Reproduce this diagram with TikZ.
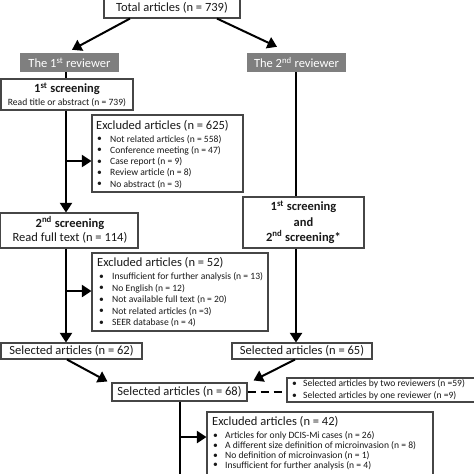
\documentclass[tikz,border=0pt]{standalone}
\usepackage{fontspec}
\setmainfont{Carlito}
\usetikzlibrary{arrows.meta}
\definecolor{grayc}{RGB}{127,127,127}
\definecolor{boxc}{RGB}{70,70,70}
\definecolor{txtc}{RGB}{25,25,25}
\begin{document}
\begin{tikzpicture}[x=1pt,y=-1pt,
  box/.style={draw=boxc, line width=1.1pt, fill=white, inner sep=0pt},
  gbox/.style={fill=grayc, text=white, inner sep=0pt, font=\fontsize{12.5}{14}\selectfont},
  big/.style={inner sep=0pt, text=txtc, font=\fontsize{12.5}{14}\selectfont},
  bigb/.style={inner sep=0pt, text=txtc, font=\fontsize{12.5}{14}\selectfont\bfseries},
  small/.style={inner sep=0pt, text=txtc, font=\fontsize{9.6}{11}\selectfont},
  arr/.style={line width=2pt, -{Triangle[length=9.5pt,width=12pt]}},
  ln/.style={line width=2pt},
  txt/.style={anchor=west}
]
\useasboundingbox (0,0) rectangle (474,474);
\clip (0,0) rectangle (474,474);

% columns
\coordinate (colL) at (66,0);
\coordinate (colR) at (296,0);
\coordinate (colB) at (180,0);

% top
\node[box, minimum width=136pt, minimum height=26pt] (total) at (172,5) {};
\node[big] (totalt) at (172,7.5) {Total articles (n = 739)};

\node[gbox, minimum width=99pt, minimum height=19pt] (rev1) at (69.5,62.5) {The 1\textsuperscript{st} reviewer};
\node[gbox, minimum width=99pt, minimum height=19pt] (rev2) at (296.5,62.5) {The 2\textsuperscript{nd} reviewer};

% left column
\node[box, minimum width=132pt, minimum height=31pt] (scr1) at (67,94.5) {};
\node[bigb] (scr1a) at (67,89) {1\textsuperscript{st} screening};
\node[small] (scr1b) at (67,102.5) {Read title or abstract (n = 739)};

\node[box, minimum width=151pt, minimum height=77pt] (exc1) at (167.5,153.5) {};
\node[big, txt] (exc1h) at (96,126) {Excluded articles (n = 625)};
\node[small, txt] (e1b1) at (97,139.5) {\textbullet};
\node[small, txt] (e1t1) at (110,139.5) {Not related articles (n = 558)};
\node[small, txt] (e1b2) at (97,150.7) {\textbullet};
\node[small, txt] (e1t2) at (110,150.7) {Conference meeting (n = 47)};
\node[small, txt] (e1b3) at (97,161.9) {\textbullet};
\node[small, txt] (e1t3) at (110,161.9) {Case report (n = 9)};
\node[small, txt] (e1b4) at (97,173.1) {\textbullet};
\node[small, txt] (e1t4) at (110,173.1) {Review article (n = 8)};
\node[small, txt] (e1b5) at (97,184.3) {\textbullet};
\node[small, txt] (e1t5) at (110,184.3) {No abstract (n = 3)};

\node[box, minimum width=138pt, minimum height=35pt] (scr2) at (69,230.5) {};
\node[bigb] (scr2a) at (70,223) {2\textsuperscript{nd} screening};
\node[big] (scr2b) at (70,238) {Read full text (n = 114)};

\node[box, minimum width=176pt, minimum height=78pt] (exc2) at (180,292) {};
\node[big, txt] (exc2h) at (97,263) {Excluded articles (n = 52)};
\node[small, txt] (e2b1) at (99,277) {\textbullet};
\node[small, txt] (e2t1) at (112,277) {Insufficient for further analysis (n = 13)};
\node[small, txt] (e2b2) at (99,288.5) {\textbullet};
\node[small, txt] (e2t2) at (112,288.5) {No English (n = 12)};
\node[small, txt] (e2b3) at (99,300) {\textbullet};
\node[small, txt] (e2t3) at (112,300) {Not available full text (n = 20)};
\node[small, txt] (e2b4) at (99,311.5) {\textbullet};
\node[small, txt] (e2t4) at (112,311.5) {Not related articles (n =3)};
\node[small, txt] (e2b5) at (99,323) {\textbullet};
\node[small, txt] (e2t5) at (112,323) {SEER database (n = 4)};

\node[box, minimum width=141pt, minimum height=16pt] (sel62) at (71.5,351) {};
\node[big] (sel62t) at (71.5,351) {Selected articles (n = 62)};

% right column
\node[box, minimum width=121pt, minimum height=51pt] (both) at (303.5,222.5) {};
\node[bigb] (botha) at (303.5,207) {1\textsuperscript{st} screening};
\node[bigb] (bothb) at (303.5,222) {and};
\node[bigb] (bothc) at (303.5,237) {2\textsuperscript{nd} screening*};

\node[box, minimum width=140pt, minimum height=16pt] (sel65) at (302,351) {};
\node[big] (sel65t) at (302,351) {Selected articles (n = 65)};

% merge
\node[box, minimum width=135pt, minimum height=18pt] (sel68) at (179.5,392) {};
\node[big] (sel68t) at (179.5,392) {Selected articles (n = 68)};

\node[box, minimum width=189pt, minimum height=24pt] (rbox) at (381.5,390) {};
\node[small, txt] (rb1) at (292,384) {\textbullet};
\node[small, txt] (rt1) at (303,384) {Selected articles by two reviewers (n =59)};
\node[small, txt] (rb2) at (292,396) {\textbullet};
\node[small, txt] (rt2) at (303,396) {Selected articles by one reviewer (n =9)};

\node[box, minimum width=226pt, minimum height=108pt] (exc3) at (320,466) {};
\node[big, txt] (exc3h) at (212,422) {Excluded articles (n = 42)};
\node[small, txt] (e3b1) at (213,436) {\textbullet};
\node[small, txt] (e3t1) at (225,436) {Articles for only DCIS-Mi cases (n = 26)};
\node[small, txt] (e3b2) at (213,445.9) {\textbullet};
\node[small, txt] (e3t2) at (225,445.9) {A different size definition of microinvasion (n = 8)};
\node[small, txt] (e3b3) at (213,455.8) {\textbullet};
\node[small, txt] (e3t3) at (225,455.8) {No definition of microinvasion (n = 1)};
\node[small, txt] (e3b4) at (213,465.7) {\textbullet};
\node[small, txt] (e3t4) at (225,465.7) {Insufficient for further analysis (n = 4)};

% connectors
\draw[arr] ([xshift=-42pt]total.south) -- ([xshift=2.5pt,yshift=3pt]rev1.north);
\draw[arr] ([xshift=45pt]total.south) -- ([xshift=-19.5pt,yshift=6pt]rev2.north);

\draw[ln] (rev1.south -| colL) -- (scr1.north -| colL);
\draw[arr] (scr1.south -| colL) -- (scr2.north -| colL);
\coordinate (bL1) at (66,161);
\draw[arr] (bL1) -- (bL1 -| exc1.west);
\draw[arr] (scr2.south -| colL) -- (sel62.north -| colL);
\coordinate (bL2) at (66,291);
\draw[arr] (bL2) -- (bL2 -| exc2.west);

\draw[ln] (rev2.south -| colR) -- (both.north -| colR);
\draw[arr] (both.south -| colR) -- (sel65.north -| colR);

\draw[arr] ([xshift=-4.5pt]sel62.south) -- ([xshift=-4pt,yshift=1pt]sel68.north west);
\draw[arr] ([xshift=-7pt]sel65.south) -- ([xshift=6pt,yshift=2pt]sel68.north east);

\draw[ln, dash pattern=on 8pt off 5pt] (sel68.east) -- (sel68.east -| rbox.west);

\coordinate (bB) at (180,437);
\coordinate (endB) at (180,480);
\draw[ln] (sel68.south -| colB) -- (endB);
\draw[arr] (bB) -- (bB -| exc3.west);
\end{tikzpicture}
\end{document}
